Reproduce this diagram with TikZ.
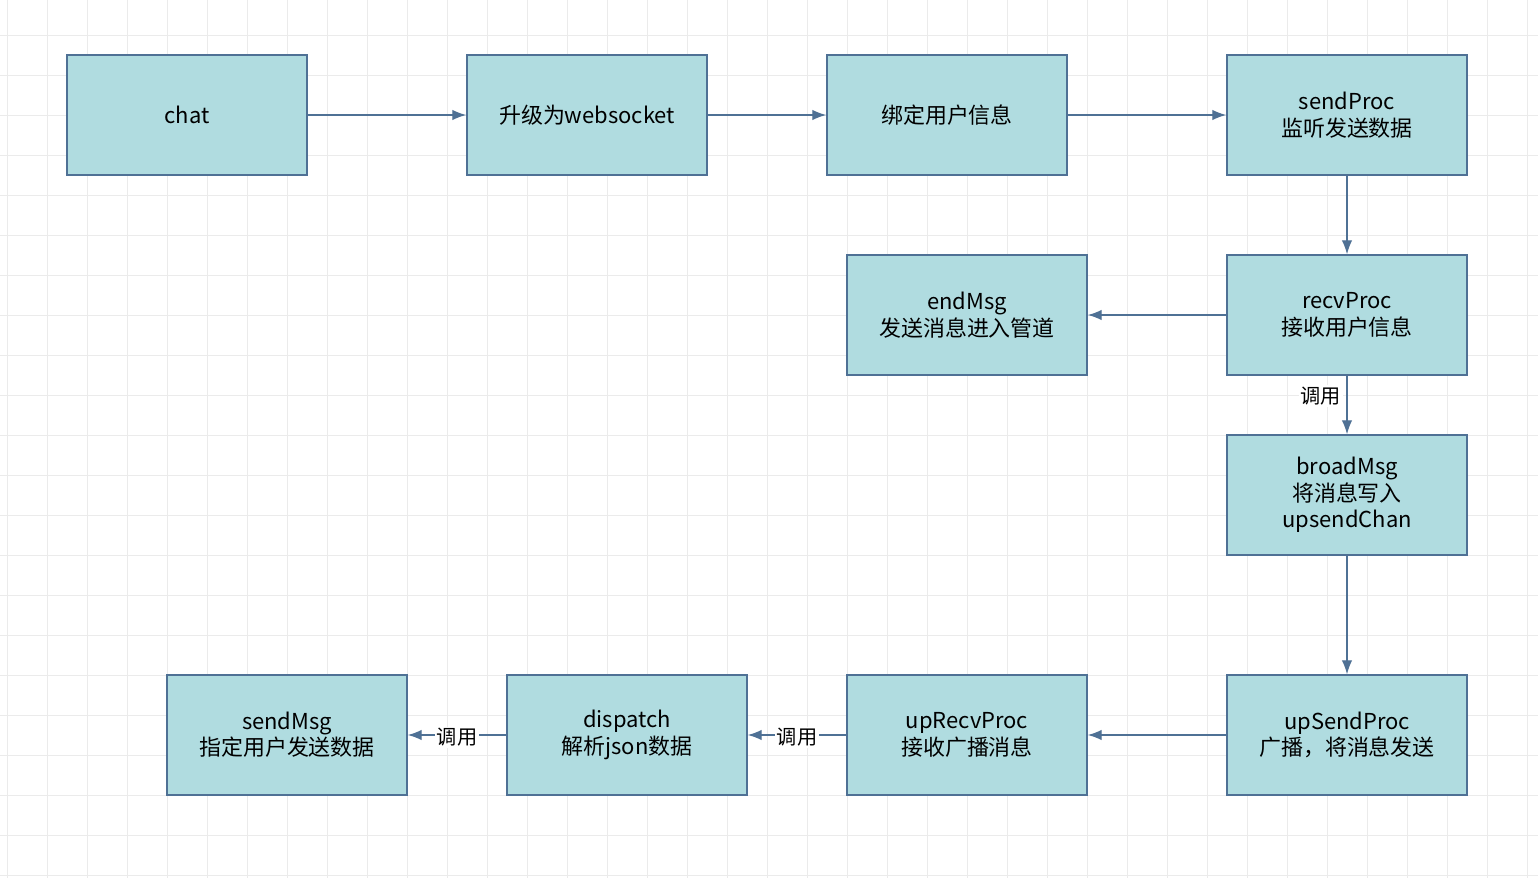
\documentclass[tikz,border=0pt]{standalone}
\usepackage{fontspec}
\setmainfont{Noto Sans CJK SC}
\usetikzlibrary{positioning,arrows.meta}
\definecolor{boxfill}{HTML}{B0DCE0}
\definecolor{boxline}{HTML}{4F7195}
\tikzset{
  stepbox/.style={draw=boxline, fill=boxfill, line width=0.8pt, minimum width=4.8cm, minimum height=2.4cm, align=center, font=\fontsize{12.5}{15}\selectfont},
  flow/.style={draw=boxline, line width=0.8pt, -{Latex[length=8pt,width=6pt]}},
  calllabel/.style={font=\fontsize{11.5}{14}\selectfont, fill=white, inner sep=1pt}
}
\begin{document}
\begin{tikzpicture}[x=0.02cm, y=-0.02cm]
    % Hintergrund und Raster
    \fill[white] (0,0) rectangle (1538,878);
    \useasboundingbox (0,0) rectangle (1538,878);
    \foreach \g in {7,47,...,1538} \draw[black!8] (\g,0) -- (\g,878);
    \foreach \g in {-5,35,...,878} \draw[black!8] (0,\g) -- (1538,\g);

    % Obere Reihe
    \node[stepbox] (chat) at (187,115) {chat};
    \node[stepbox] (upgrade) at (587,115) {升级为websocket};
    \node[stepbox] (bind) at (947,115) {绑定用户信息};
    \node[stepbox] (sendproc) at (1347,115) {sendProc\\监听发送数据};

    % Rechte Spalte
    \node[stepbox] (recvproc) at (1347,315) {recvProc\\接收用户信息};
    \node[stepbox] (endmsg) at (967,315) {endMsg\\发送消息进入管道};
    \node[stepbox] (broadmsg) at (1347,495) {broadMsg\\将消息写入\\upsendChan};

    % Untere Reihe
    \node[stepbox] (upsend) at (1347,735) {upSendProc\\广播，将消息发送};
    \node[stepbox] (uprecv) at (967,735) {upRecvProc\\接收广播消息};
    \node[stepbox] (dispatch) at (627,735) {dispatch\\解析json数据};
    \node[stepbox] (sendmsg) at (287,735) {sendMsg\\指定用户发送数据};

    % Verbindungen
    \draw[flow] (chat) -- (upgrade);
    \draw[flow] (upgrade) -- (bind);
    \draw[flow] (bind) -- (sendproc);
    \draw[flow] (sendproc) -- (recvproc);
    \draw[flow] (recvproc) -- (endmsg);
    \draw[flow] (recvproc) -- node[calllabel, pos=0.35, left=2pt] {调用} (broadmsg);
    \draw[flow] (broadmsg) -- (upsend);
    \draw[flow] (upsend) -- (uprecv);
    \draw[flow] (uprecv) -- node[calllabel, above=-8pt] {调用} (dispatch);
    \draw[flow] (dispatch) -- node[calllabel, above=-8pt] {调用} (sendmsg);
  \end{tikzpicture}
\end{document}
